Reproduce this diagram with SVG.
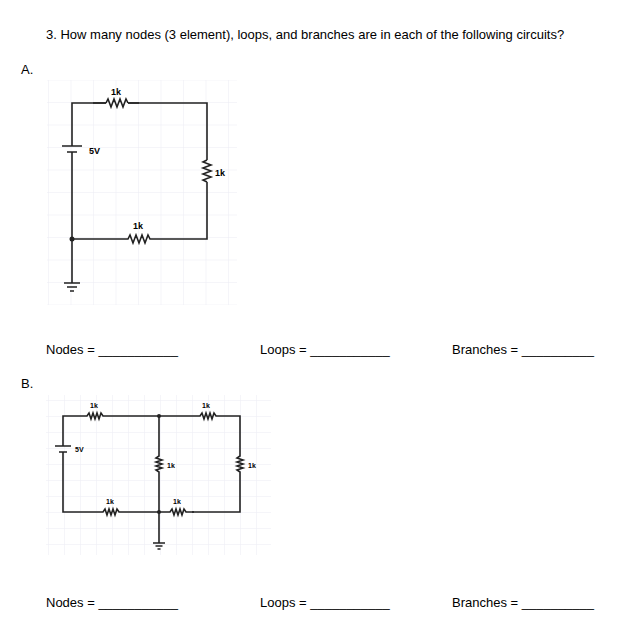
<svg xmlns="http://www.w3.org/2000/svg" width="641" height="633" viewBox="0 0 641 633">
<defs>
<style>
.t{font-family:"Liberation Sans",Arial,sans-serif;font-size:13px;fill:#000}
.s{font-family:"Liberation Sans",Arial,sans-serif;font-size:9px;fill:#000;font-weight:bold}
.xs{font-family:"Liberation Sans",Arial,sans-serif;font-size:7px;fill:#000;font-weight:bold}
.w{stroke:#222;stroke-width:1.6;fill:none}
.g{stroke:#ececf4;stroke-width:1}
</style>
<pattern id="gridA" width="22.5" height="22.5" patternUnits="userSpaceOnUse" x="3" y="12"><path d="M0 0H22.5M0 0V22.5" class="g"/></pattern>
<pattern id="gridB" width="16" height="16" patternUnits="userSpaceOnUse" x="0" y="0"><path d="M0 0H16M0 0V16" class="g"/></pattern>
</defs>
<rect width="641" height="633" fill="#fff"/>
<text class="t" x="46" y="39">3.   How many nodes (3 element), loops, and branches are in each of the following circuits?</text>
<text class="t" x="21" y="74">A.</text>
<text class="t" x="21" y="388">B.</text>
<rect x="47" y="80" width="190" height="225" fill="url(#gridA)"/>
<rect x="46" y="395" width="225" height="160" fill="url(#gridB)"/>
<g id="circuitA">
<path class="w" d="M72 127V103H106M128 103H139H207V149M207 194V239H162M116 239H72V172M72 239V283"/>
<path class="w" d="M106 103l2 -4l3 8l3 -8l3 8l3 -8l3 8l3 -8l2 4M93 103h13M128 103h11"/>
<path class="w" d="M207 160l-4 2l8 3l-8 3l8 3l-8 3l8 3l-8 3l4 2M207 149v11M207 182v12"/>
<path class="w" d="M116 239h12l2 -4l3 8l3 -8l3 8l3 -8l3 8l3 -8l2 4h12"/>
<path class="w" d="M62 146H82M67 152H77"/>
<path class="w" d="M72 127V146M72 152V172"/>
<path class="w" d="M64 283H80M67 287H77M70 291H74"/>
<circle cx="72" cy="239" r="2.5" fill="#222"/>
<text class="s" x="111" y="95">1k</text>
<text class="s" x="89" y="154">5V</text>
<text class="s" x="215" y="176">1k</text>
<text class="s" x="133" y="229">1k</text>
</g>
<g id="circuitB">
<path class="w" d="M63 433V416H79M111 416H192M223 416H240V448M240 480V512H192M165 512H128M95 512H63V463M159 416V448M159 480V543"/>
<path class="w" d="M79 416h8l2 -3l2 6l2 -6l2 6l2 -6l2 6l2 -6l2 3h8"/>
<path class="w" d="M192 416h8l2 -3l2 6l2 -6l2 6l2 -6l2 6l2 -6l2 3h7"/>
<path class="w" d="M95 512h8l2 -3l2 6l2 -6l2 6l2 -6l2 6l2 -6l2 3h9"/>
<path class="w" d="M165 512h5l2 -3l2 6l2 -6l2 6l2 -6l2 6l2 -6l2 3h8"/>
<path class="w" d="M159 448v8l-3 2l6 2l-6 2l6 2l-6 2l6 2l-6 2l3 2v8"/>
<path class="w" d="M240 448v8l-3 2l6 2l-6 2l6 2l-6 2l6 2l-6 2l3 2v8"/>
<path class="w" d="M55 446H71M59 452H67M63 433V446M63 452V463"/>
<path class="w" d="M153 543H165M155.5 546H162.5M157.5 549H160.5"/>
<circle cx="159" cy="416" r="2" fill="#222"/>
<circle cx="159" cy="512" r="2" fill="#222"/>
<text class="xs" x="90" y="408">1k</text>
<text class="xs" x="202" y="408">1k</text>
<text class="xs" x="75" y="452">5V</text>
<text class="xs" x="167" y="468">1k</text>
<text class="xs" x="248" y="468">1k</text>
<text class="xs" x="106" y="504">1k</text>
<text class="xs" x="173" y="504">1k</text>
</g>
<text class="t" x="46" y="354">Nodes = ___________</text>
<text class="t" x="260" y="354">Loops = ___________</text>
<text class="t" x="452" y="354">Branches = __________</text>
<text class="t" x="46" y="607">Nodes = ___________</text>
<text class="t" x="260" y="607">Loops = ___________</text>
<text class="t" x="452" y="607">Branches = __________</text>
</svg>
